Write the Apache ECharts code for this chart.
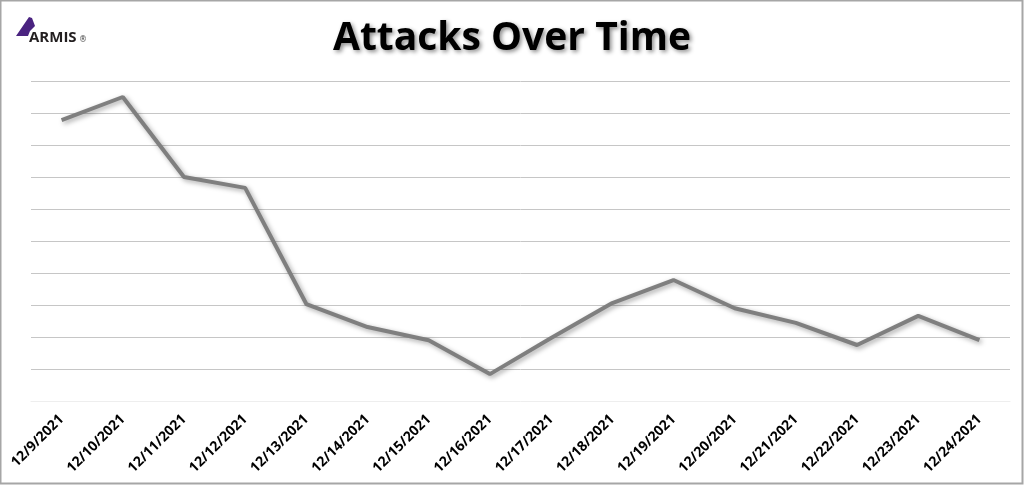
<!DOCTYPE html>
<html>
<head>
<meta charset="utf-8">
<script src="https://cdn.jsdelivr.net/npm/echarts@6/dist/echarts.min.js"></script>
<style>
  html, body { margin: 0; padding: 0; background: #fff; }
  #chart { width: 1024px; height: 485px; }
</style>
</head>
<body>
<div id="chart"></div>
<script>
// dates on the x axis
var dates = [
  '12/9/2021', '12/10/2021', '12/11/2021', '12/12/2021', '12/13/2021', '12/14/2021',
  '12/15/2021', '12/16/2021', '12/17/2021', '12/18/2021', '12/19/2021', '12/20/2021',
  '12/21/2021', '12/22/2021', '12/23/2021', '12/24/2021'
];
// attacks (relative scale, no y labels shown in the source)
var attacks = [87.8, 95, 70, 66.6, 30.3, 23.1, 19, 8.4, 19.7, 30.6, 37.8, 29, 24.4, 17.5, 26.6, 19];

var chart = echarts.init(document.getElementById('chart'), null, { renderer: 'canvas' });

chart.setOption({
  backgroundColor: '#fff',
  animation: false,
  title: {
    text: 'Attacks Over Time',
    left: 'center',
    top: 14,
    textStyle: {
      fontFamily: 'Open Sans',
      fontWeight: 'bold',
      fontSize: 39,
      color: '#000',
      textShadowColor: 'rgba(0,0,0,0.45)',
      textShadowBlur: 4,
      textShadowOffsetX: 2,
      textShadowOffsetY: 2
    }
  },
  grid: { left: 31, right: 14, top: 81, bottom: 84 },
  xAxis: {
    type: 'category',
    data: dates,
    boundaryGap: true,
    axisLine: { lineStyle: { color: '#eeeeee', width: 1 } },
    axisTick: { show: false },
    axisLabel: {
      rotate: 45,
      interval: 0,
      margin: 16,
      color: '#000',
      fontFamily: 'Open Sans',
      fontWeight: 'bold',
      fontSize: 14
    }
  },
  yAxis: {
    type: 'value',
    min: 0,
    max: 100,
    interval: 10,
    axisLabel: { show: false },
    axisLine: { show: false },
    axisTick: { show: false },
    splitLine: { showMinLine: false, lineStyle: { color: '#c6c6c6', width: 1 } }
  },
  series: [{
    type: 'line',
    data: attacks,
    symbol: 'none',
    lineStyle: {
      color: '#7f7f7f',
      width: 4,
      shadowColor: 'rgba(0,0,0,0.35)',
      shadowBlur: 5,
      shadowOffsetX: 2,
      shadowOffsetY: 2
    }
  }],
  graphic: [
    {
      type: 'rect',
      shape: { x: 0.5, y: 0.5, width: 1022, height: 483 },
      style: { fill: 'none', stroke: '#a6a6a6', lineWidth: 2 }
    },
    {
      type: 'polygon',
      shape: { points: [[16, 36], [29, 17], [32, 18], [35, 26], [30, 31], [28, 36]] },
      style: { fill: '#4a2380' }
    },
    {
      type: 'text',
      left: 29,
      top: 30,
      style: {
        text: 'ARMIS',
        fill: '#231f20',
        font: 'bold 15px "Open Sans"'
      }
    },
    {
      type: 'text',
      left: 79,
      top: 36,
      style: {
        text: '®',
        fill: '#444',
        font: '8px "DejaVu Sans"'
      }
    }
  ]
});
</script>
</body>
</html>
